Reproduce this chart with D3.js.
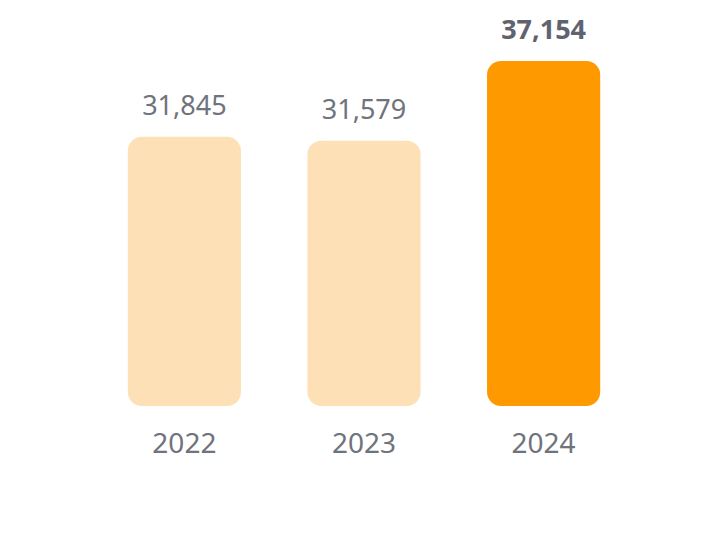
<!DOCTYPE html>
<html>
<head>
<meta charset="utf-8">
<script src="https://cdn.jsdelivr.net/npm/d3@7"></script>
<style>
  body { margin: 0; background: #fff; }
</style>
</head>
<body>
<div id="chart"></div>
<script>
var years = ["2022", "2023", "2024"];
var values = [31845, 31579, 37154];
var labels = ["31,845", "31,579", "37,154"];

var svgWidth = 728;
var svgHeight = 540;

var svg = d3.select("#chart")
    .append("svg")
    .attr("width", svgWidth)
    .attr("height", svgHeight);

var x = d3.scaleBand()
    .domain(years)
    .range([38, 690])
    .paddingInner(0.37)
    .paddingOuter(0.5);

var y = d3.scaleLinear()
    .domain([13000, 37154])
    .range([406, 61]);

var bars = svg.selectAll(".bar")
    .data(years)
    .enter()
    .append("rect")
    .attr("x", d => x(d))
    .attr("y", (d, i) => y(values[i]))
    .attr("width", x.bandwidth())
    .attr("height", (d, i) => 406 - y(values[i]))
    .attr("rx", 14)
    .attr("fill", (d, i) => i === 2 ? "#ff9900" : "#fde0b5");

// value labels
svg.selectAll(".val")
    .data(years)
    .enter()
    .append("text")
    .attr("x", d => x(d) + x.bandwidth() / 2)
    .attr("y", (d, i) => y(values[i]) - 22)
    .attr("text-anchor", "middle")
    .attr("font-family", "Noto Sans, sans-serif")
    .attr("font-size", 27)
    .attr("font-weight", (d, i) => i === 2 ? "bold" : "normal")
    .attr("fill", (d, i) => i === 2 ? "#5f6370" : "#6f737d")
    .text((d, i) => labels[i]);

// year labels
svg.selectAll(".year")
    .data(years)
    .enter()
    .append("text")
    .attr("x", d => x(d) + x.bandwidth() / 2)
    .attr("y", 453)
    .attr("text-anchor", "middle")
    .attr("font-family", "Noto Sans, sans-serif")
    .attr("font-size", 28)
    .attr("fill", "#6f737d")
    .text(d => d);
</script>
</body>
</html>
